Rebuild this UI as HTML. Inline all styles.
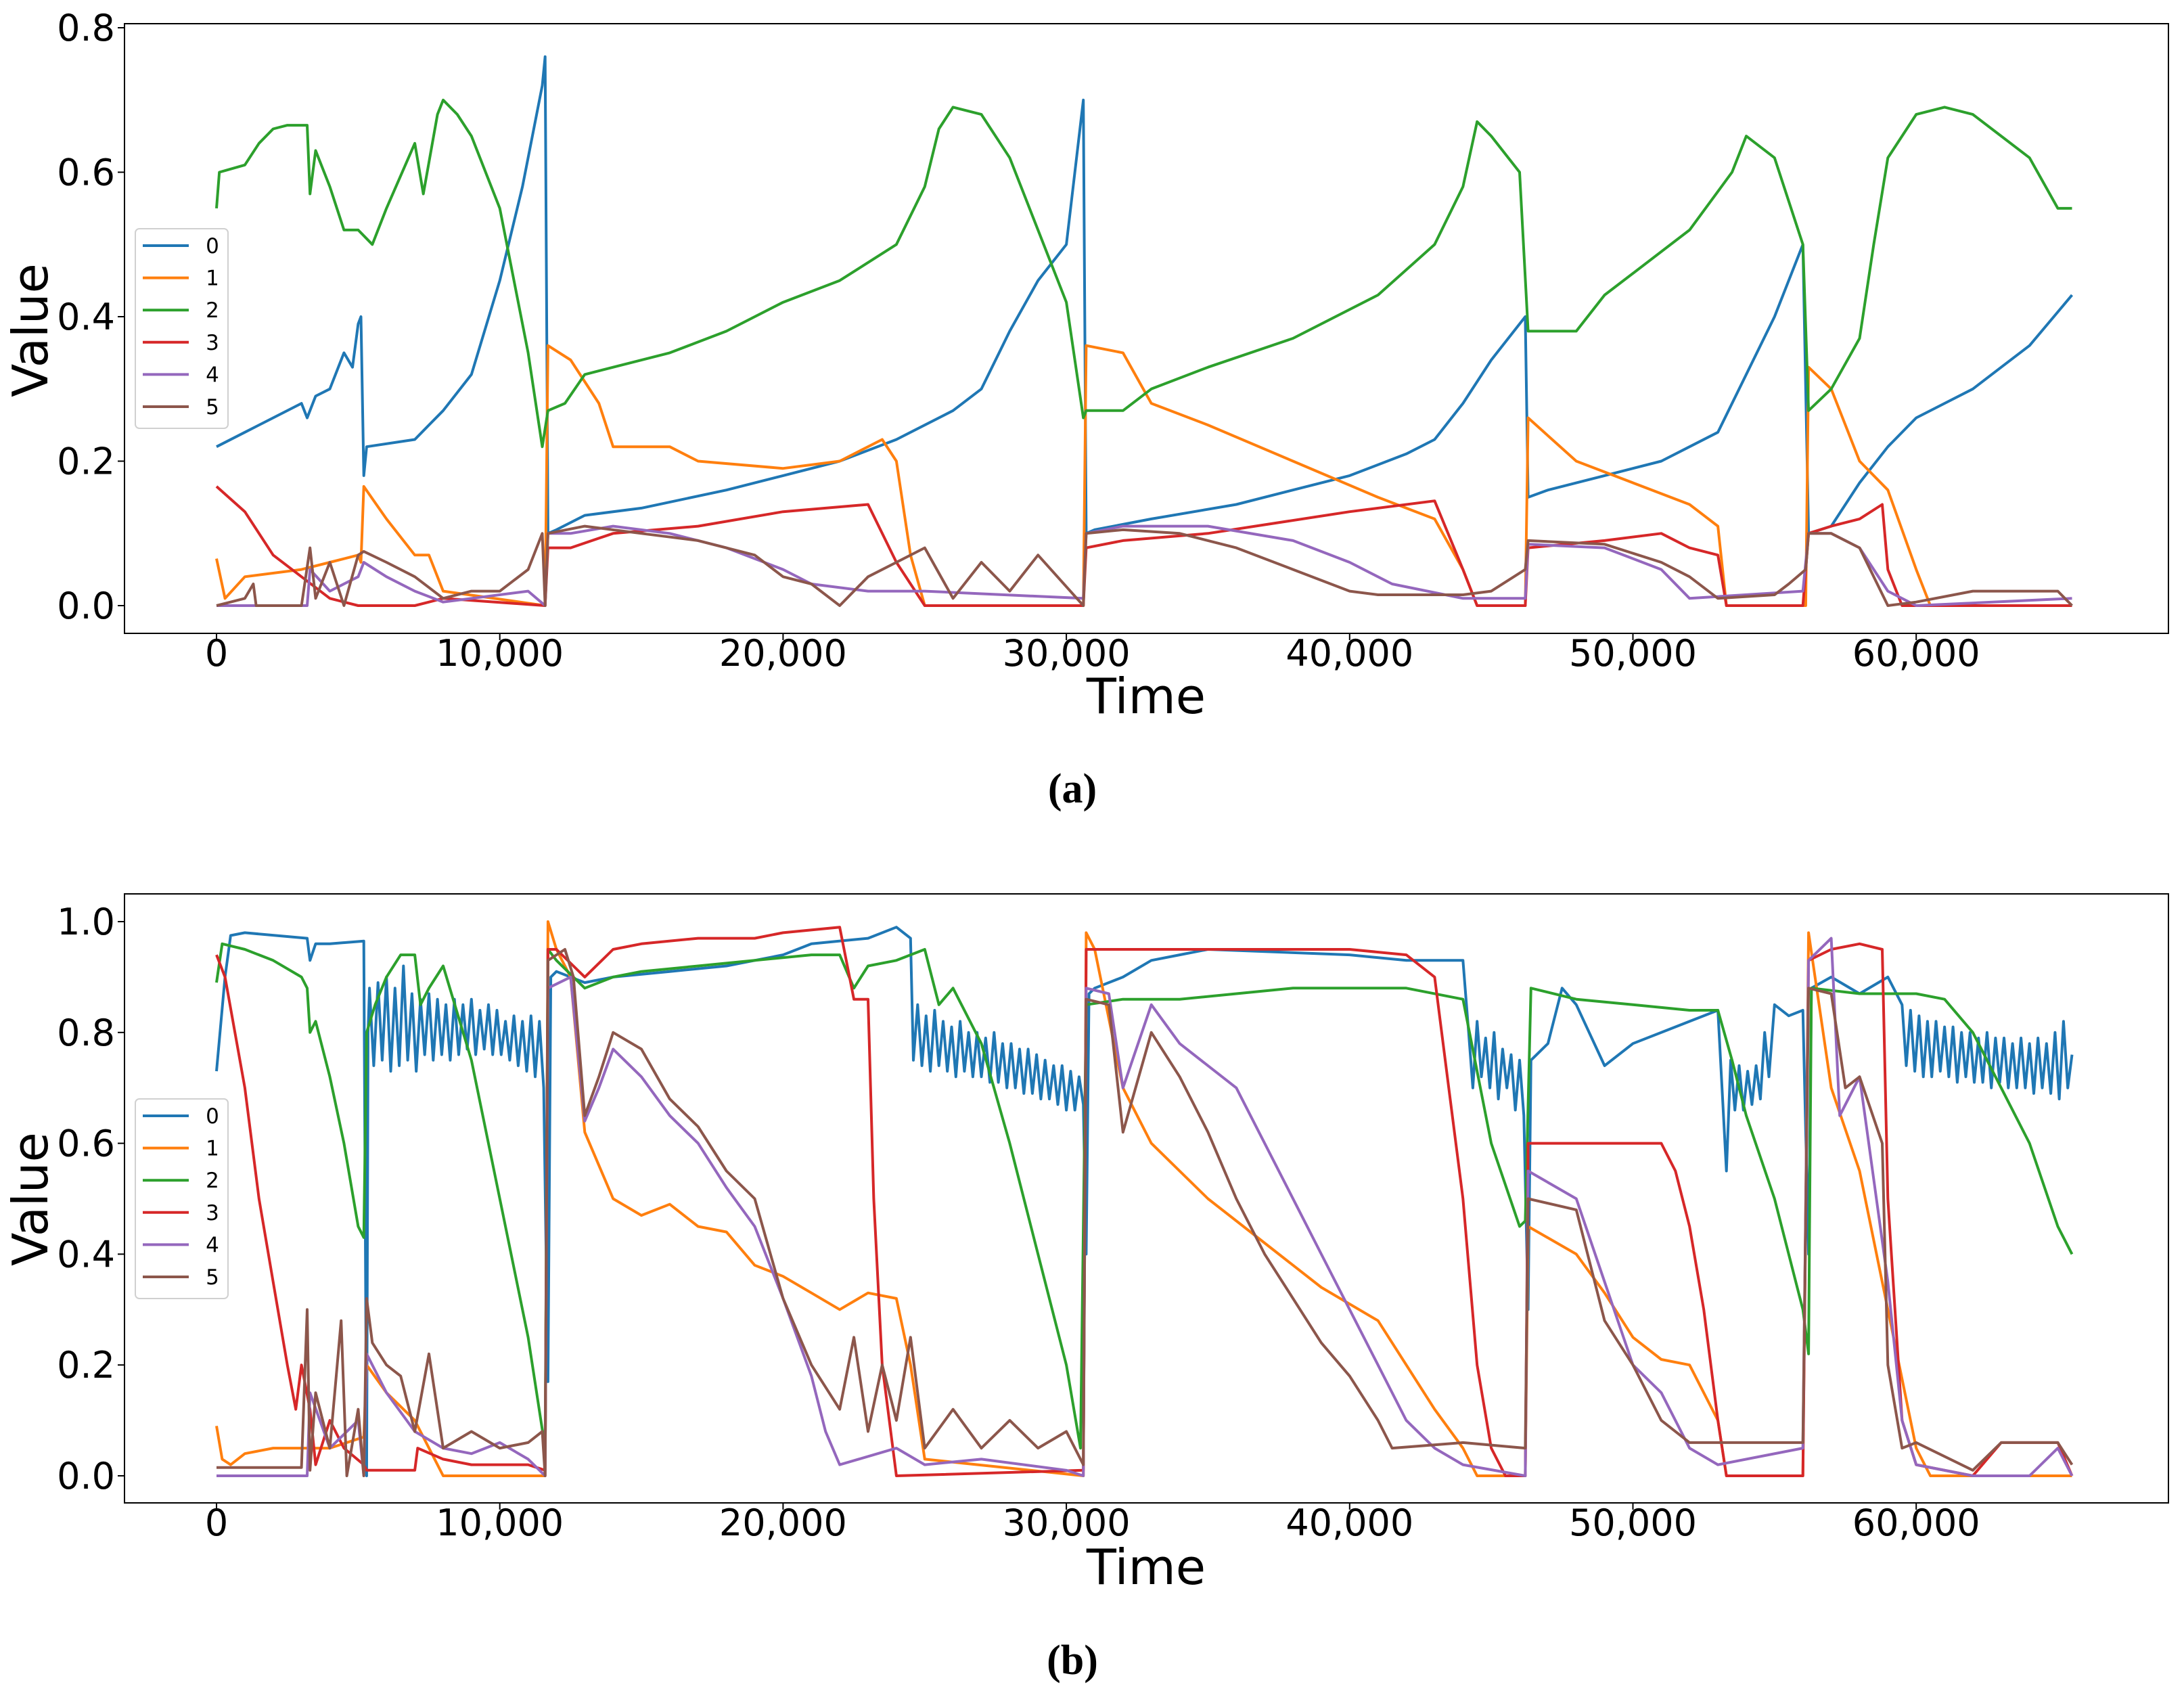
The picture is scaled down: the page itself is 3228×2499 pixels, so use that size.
<!DOCTYPE html>
<html><head><meta charset="utf-8">
<style>
html,body{margin:0;padding:0;background:#fff;}
svg{display:block;}
</style></head>
<body>
<svg id="fig" xmlns="http://www.w3.org/2000/svg" width="3228" height="2499" viewBox="0 0 3228 2499">
<rect x="0" y="0" width="3228" height="2499" fill="#fff"/>
<g id="panelA"></g>
<g id="panelB"></g>
<text x="1585" y="1186" text-anchor="middle" font-family="Liberation Serif, serif" font-size="62" font-weight="bold">(a)</text>
<text x="1585" y="2474" text-anchor="middle" font-family="Liberation Serif, serif" font-size="62" font-weight="bold">(b)</text>
</svg>
<script>
// ---- data (time in thousands) ----
const xTicks = [0,10,20,30,40,50,60];
const xTickLabels = ["0","10,000","20,000","30,000","40,000","50,000","60,000"];
const yTicksA = [0,0.2,0.4,0.6,0.8];
const yTickLabelsA = ["0.0","0.2","0.4","0.6","0.8"];
const yTicksB = [0,0.2,0.4,0.6,0.8,1.0];
const yTickLabelsB = ["0.0","0.2","0.4","0.6","0.8","1.0"];
const seriesNames = ["0","1","2","3","4","5"];
const colors = ["#1f77b4","#ff7f0e","#2ca02c","#d62728","#9467bd","#8c564b"];

const a0 = [[0,0.22],[1,0.24],[2,0.26],[3,0.28],[3.2,0.26],[3.5,0.29],[4,0.3],[4.5,0.35],[4.8,0.33],[5,0.39],[5.1,0.4],[5.2,0.18],[5.3,0.22],[7,0.23],[7.5,0.25],[8,0.27],[9,0.32],[10,0.45],[10.8,0.58],[11.5,0.72],[11.6,0.76],[11.7,0.1],[12,0.105],[13,0.125],[15,0.135],[18,0.16],[20,0.18],[22,0.2],[24,0.23],[26,0.27],[27,0.3],[28,0.38],[29,0.45],[30,0.5],[30.6,0.7],[30.7,0.1],[31,0.105],[33,0.12],[36,0.14],[40,0.18],[42,0.21],[43,0.23],[44,0.28],[45,0.34],[46.2,0.4],[46.3,0.15],[47,0.16],[49,0.18],[51,0.2],[52,0.22],[53,0.24],[54,0.32],[55,0.4],[56,0.5],[56.2,0.1],[57,0.11],[58,0.17],[59,0.22],[60,0.26],[61,0.28],[62,0.3],[63,0.33],[64,0.36],[65.5,0.43]];
const a1 = [[0,0.065],[0.3,0.01],[1,0.04],[3,0.05],[4,0.06],[5,0.07],[5.1,0.06],[5.2,0.165],[6,0.12],[7,0.07],[7.5,0.07],[8,0.02],[11.6,0],[11.7,0.36],[12.5,0.34],[13.5,0.28],[14,0.22],[16,0.22],[17,0.2],[20,0.19],[22,0.2],[23.5,0.23],[24,0.2],[24.5,0.07],[25,0],[30.6,0],[30.7,0.36],[32,0.35],[33,0.28],[35,0.25],[38,0.2],[41,0.15],[43,0.12],[44,0.05],[44.5,0],[46.2,0],[46.3,0.26],[48,0.2],[50,0.17],[52,0.14],[53,0.11],[53.3,0],[56.1,0],[56.2,0.33],[57,0.3],[58,0.2],[59,0.16],[60,0.05],[60.5,0],[65.5,0]];
const a2 = [[0,0.55],[0.1,0.6],[1,0.61],[1.5,0.64],[2,0.66],[2.5,0.665],[3.2,0.665],[3.3,0.57],[3.5,0.63],[4,0.58],[4.5,0.52],[5,0.52],[5.5,0.5],[6,0.55],[7,0.64],[7.3,0.57],[7.8,0.68],[8,0.7],[8.5,0.68],[9,0.65],[10,0.55],[11,0.35],[11.5,0.22],[11.7,0.27],[12.3,0.28],[13,0.32],[14,0.33],[16,0.35],[18,0.38],[20,0.42],[22,0.45],[24,0.5],[25,0.58],[25.5,0.66],[26,0.69],[27,0.68],[28,0.62],[29,0.52],[30,0.42],[30.6,0.26],[30.7,0.27],[32,0.27],[33,0.3],[35,0.33],[38,0.37],[41,0.43],[43,0.5],[44,0.58],[44.5,0.67],[45,0.65],[46,0.6],[46.3,0.38],[48,0.38],[49,0.43],[50,0.46],[52,0.52],[53.5,0.6],[54,0.65],[55,0.62],[56,0.5],[56.2,0.27],[57,0.3],[58,0.37],[58.5,0.5],[59,0.62],[60,0.68],[61,0.69],[62,0.68],[63,0.65],[64,0.62],[65,0.55],[65.5,0.55]];
const a3 = [[0,0.165],[1,0.13],[2,0.07],[3,0.04],[4,0.01],[5,0],[7,0],[8,0.01],[11.6,0],[11.7,0.08],[12.5,0.08],[14,0.1],[17,0.11],[20,0.13],[23,0.14],[24,0.06],[25,0],[30.6,0],[30.7,0.08],[32,0.09],[35,0.1],[40,0.13],[43,0.145],[44,0.05],[44.5,0],[46.2,0],[46.3,0.08],[49,0.09],[51,0.1],[52,0.08],[53,0.07],[53.3,0],[56,0],[56.2,0.1],[57,0.11],[58,0.12],[58.8,0.14],[59,0.05],[59.5,0],[65.5,0]];
const a4 = [[0,0],[3.2,0],[3.3,0.05],[4,0.02],[5,0.04],[5.2,0.06],[6,0.04],[7,0.02],[8,0.005],[11,0.02],[11.6,0],[11.7,0.1],[12.5,0.1],[14,0.11],[16,0.1],[18,0.08],[20,0.05],[21,0.03],[23,0.02],[25,0.02],[30.6,0.01],[30.7,0.1],[32,0.11],[35,0.11],[38,0.09],[40,0.06],[41.5,0.03],[44,0.01],[46.2,0.01],[46.3,0.085],[49,0.08],[51,0.05],[52,0.01],[56,0.02],[56.2,0.1],[57,0.1],[58,0.08],[59,0.02],[60,0],[65.5,0.01]];
const a5 = [[0,0],[1,0.01],[1.3,0.03],[1.4,0],[3,0],[3.3,0.08],[3.5,0.01],[4,0.06],[4.5,0],[5,0.07],[5.2,0.075],[6,0.06],[7,0.04],[8,0.01],[9,0.02],[10,0.02],[11,0.05],[11.5,0.1],[11.6,0],[11.7,0.1],[13,0.11],[15,0.1],[17,0.09],[19,0.07],[20,0.04],[21,0.03],[22,0],[23,0.04],[24,0.06],[25,0.08],[26,0.01],[27,0.06],[28,0.02],[29,0.07],[30.6,0],[30.7,0.1],[32,0.105],[34,0.1],[36,0.08],[38,0.05],[40,0.02],[41,0.015],[44,0.015],[45,0.02],[46.2,0.05],[46.3,0.09],[49,0.085],[51,0.06],[52,0.04],[53,0.01],[55,0.015],[55.5,0.03],[56.1,0.05],[56.2,0.1],[57,0.1],[58,0.08],[59,0],[60,0.005],[62,0.02],[65,0.02],[65.5,0]];

const b0 = [[0,0.73],[0.3,0.9],[0.5,0.975],[1,0.98],[3.2,0.97],[3.3,0.93],[3.5,0.96],[4,0.96],[5.2,0.965],[5.3,0],[5.35,0.8],
[5.4,0.88],[5.55,0.74],[5.7,0.89],[5.85,0.75],[6.0,0.9],[6.15,0.73],[6.3,0.88],[6.45,0.74],[6.6,0.92],[6.75,0.75],[6.9,0.87],[7.05,0.73],[7.2,0.86],[7.35,0.76],[7.5,0.87],[7.65,0.75],[7.8,0.86],[7.95,0.76],[8.1,0.85],[8.25,0.75],[8.4,0.86],[8.55,0.76],[8.7,0.85],[8.85,0.77],[9.0,0.86],[9.15,0.76],[9.3,0.84],[9.45,0.77],[9.6,0.85],[9.75,0.76],[9.9,0.84],[10.05,0.76],[10.2,0.82],[10.35,0.75],[10.5,0.83],[10.65,0.74],[10.8,0.82],[10.95,0.73],[11.1,0.83],[11.25,0.72],[11.4,0.82],[11.55,0.7],
[11.7,0.17],[11.8,0.9],[12,0.91],[13,0.89],[14,0.9],[16,0.91],[18,0.92],[20,0.94],[21,0.96],[23,0.97],[24,0.99],[24.5,0.97],
[24.6,0.75],[24.75,0.85],[24.9,0.74],[25.05,0.83],[25.2,0.73],[25.35,0.84],[25.5,0.74],[25.65,0.82],[25.8,0.73],[25.95,0.81],[26.1,0.72],[26.25,0.82],[26.4,0.73],[26.55,0.8],[26.7,0.72],[26.85,0.8],[27.0,0.72],[27.15,0.79],[27.3,0.71],[27.45,0.8],[27.6,0.71],[27.75,0.78],[27.9,0.7],[28.05,0.78],[28.2,0.7],[28.35,0.77],[28.5,0.69],[28.65,0.77],[28.8,0.69],[28.95,0.76],[29.1,0.68],[29.25,0.75],[29.4,0.68],[29.55,0.74],[29.7,0.67],[29.85,0.74],[30.0,0.66],[30.15,0.73],[30.3,0.66],[30.45,0.72],[30.6,0.67],
[30.7,0.4],[30.8,0.87],[31,0.88],[32,0.9],[33,0.93],[34,0.94],[35,0.95],[40,0.94],[42,0.93],[44,0.93],
[44.2,0.8],[44.35,0.7],[44.5,0.82],[44.65,0.72],[44.8,0.79],[44.95,0.7],[45.1,0.8],[45.25,0.68],[45.4,0.77],[45.55,0.7],[45.7,0.76],[45.85,0.66],[46.0,0.75],[46.15,0.65],
[46.3,0.3],[46.4,0.75],[47,0.78],[47.5,0.88],[48,0.85],[49,0.74],[50,0.78],[52,0.82],[53,0.84],
[53.3,0.55],[53.45,0.75],[53.6,0.66],[53.75,0.74],[53.9,0.66],[54.05,0.73],[54.2,0.67],[54.35,0.74],[54.5,0.68],[54.65,0.8],[54.8,0.72],[55,0.85],[55.5,0.83],[56,0.84],
[56.2,0.4],[56.3,0.88],[57,0.9],[58,0.87],[59,0.9],
[59.5,0.85],[59.65,0.74],[59.8,0.84],[59.95,0.73],[60.1,0.83],[60.25,0.72],[60.4,0.82],[60.55,0.72],[60.7,0.82],[60.85,0.73],[61.0,0.81],[61.15,0.72],[61.3,0.81],[61.45,0.71],[61.6,0.8],[61.75,0.72],[61.9,0.8],[62.05,0.71],[62.2,0.79],[62.35,0.71],[62.5,0.8],[62.65,0.7],[62.8,0.79],[62.95,0.71],[63.1,0.79],[63.25,0.7],[63.4,0.78],[63.55,0.7],[63.7,0.79],[63.85,0.7],[64.0,0.78],[64.15,0.69],[64.3,0.79],[64.45,0.7],[64.6,0.78],[64.75,0.69],[64.9,0.8],[65.05,0.68],[65.2,0.82],[65.35,0.7],[65.5,0.76]];
const b1 = [[0,0.09],[0.2,0.03],[0.5,0.02],[1,0.04],[2,0.05],[3,0.05],[4,0.05],[5.2,0.07],[5.3,0.2],[6,0.15],[7,0.1],[8,0],[11.6,0],[11.7,1.0],[12,0.95],[12.5,0.9],[13,0.62],[14,0.5],[15,0.47],[16,0.49],[17,0.45],[18,0.44],[19,0.38],[20,0.36],[21,0.33],[22,0.3],[23,0.33],[24,0.32],[24.5,0.2],[25,0.03],[30.6,0],[30.7,0.98],[31,0.95],[32,0.7],[33,0.6],[35,0.5],[37,0.42],[39,0.34],[41,0.28],[43,0.12],[44,0.05],[44.5,0],[46.2,0],[46.3,0.45],[48,0.4],[49,0.33],[50,0.25],[51,0.21],[52,0.2],[53,0.1],[53.3,0],[56,0],[56.2,0.98],[57,0.7],[58,0.55],[59,0.3],[60,0.05],[60.5,0],[65.5,0]];
const b2 = [[0,0.89],[0.2,0.96],[1,0.95],[2,0.93],[3,0.9],[3.2,0.88],[3.3,0.8],[3.5,0.82],[4,0.72],[4.5,0.6],[5,0.45],[5.2,0.43],[5.3,0.8],[5.6,0.85],[6,0.9],[6.5,0.94],[7,0.94],[7.2,0.85],[7.5,0.88],[8,0.92],[9,0.75],[10,0.5],[11,0.25],[11.6,0.05],[11.7,0.95],[12,0.93],[13,0.88],[14,0.9],[15,0.91],[17,0.92],[19,0.93],[21,0.94],[22,0.94],[22.5,0.88],[23,0.92],[24,0.93],[25,0.95],[25.5,0.85],[26,0.88],[27,0.78],[28,0.6],[29,0.4],[30,0.2],[30.5,0.05],[30.7,0.85],[32,0.86],[34,0.86],[36,0.87],[38,0.88],[42,0.88],[44,0.86],[45,0.6],[46,0.45],[46.2,0.46],[46.4,0.88],[48,0.86],[50,0.85],[52,0.84],[53,0.84],[53.5,0.75],[54,0.65],[55,0.5],[56,0.3],[56.2,0.22],[56.3,0.88],[58,0.87],[60,0.87],[61,0.86],[62,0.8],[63,0.7],[64,0.6],[65,0.45],[65.5,0.4]];
const b3 = [[0,0.94],[0.3,0.9],[1,0.7],[1.5,0.5],[2,0.35],[2.5,0.2],[2.8,0.12],[3,0.2],[3.3,0.12],[3.5,0.02],[4,0.1],[4.5,0.05],[5.2,0.02],[5.3,0.01],[7,0.01],[7.1,0.05],[8,0.03],[9,0.02],[11,0.02],[11.6,0.01],[11.7,0.95],[12,0.95],[13,0.9],[14,0.95],[15,0.96],[17,0.97],[19,0.97],[20,0.98],[22,0.99],[22.5,0.86],[23,0.86],[23.2,0.5],[23.5,0.2],[24,0],[30.6,0.01],[30.7,0.95],[32,0.95],[34,0.95],[36,0.95],[40,0.95],[42,0.94],[43,0.9],[43.5,0.7],[44,0.5],[44.5,0.2],[45,0.05],[45.5,0],[46.2,0],[46.3,0.6],[49,0.6],[51,0.6],[51.5,0.55],[52,0.45],[52.5,0.3],[53,0.1],[53.3,0],[56,0],[56.2,0.93],[57,0.95],[58,0.96],[58.8,0.95],[59,0.5],[59.5,0.1],[60,0.02],[62,0],[63,0.06],[65,0.06],[65.5,0]];
const b4 = [[0,0],[3.2,0],[3.3,0.15],[4,0.05],[5,0.1],[5.2,0],[5.3,0.22],[6,0.15],[7,0.08],[8,0.05],[9,0.04],[10,0.06],[11,0.03],[11.6,0],[11.7,0.88],[12.5,0.9],[13,0.64],[13.5,0.7],[14,0.77],[15,0.72],[16,0.65],[17,0.6],[18,0.52],[19,0.45],[20,0.32],[21,0.18],[21.5,0.08],[22,0.02],[24,0.05],[25,0.02],[27,0.03],[30,0.01],[30.6,0],[30.7,0.88],[31.5,0.87],[32,0.7],[33,0.85],[34,0.78],[36,0.7],[38,0.5],[39,0.4],[40,0.3],[41,0.2],[42,0.1],[43,0.05],[44,0.02],[46.2,0],[46.3,0.55],[48,0.5],[49,0.35],[50,0.2],[51,0.15],[52,0.05],[53,0.02],[56,0.05],[56.2,0.93],[57,0.97],[57.3,0.65],[58,0.72],[59,0.35],[59.5,0.1],[60,0.02],[62,0],[64,0],[65,0.05],[65.5,0]];
const b5 = [[0,0.015],[3,0.015],[3.2,0.3],[3.3,0.01],[3.5,0.15],[4,0.05],[4.4,0.28],[4.6,0],[5,0.12],[5.2,0],[5.3,0.32],[5.5,0.24],[6,0.2],[6.5,0.18],[7,0.08],[7.5,0.22],[8,0.05],[9,0.08],[10,0.05],[11,0.06],[11.5,0.08],[11.6,0],[11.7,0.93],[12.3,0.95],[12.6,0.9],[13,0.65],[13.5,0.72],[14,0.8],[15,0.77],[16,0.68],[17,0.63],[18,0.55],[19,0.5],[20,0.32],[21,0.2],[22,0.12],[22.5,0.25],[23,0.08],[23.5,0.2],[24,0.1],[24.5,0.25],[25,0.05],[26,0.12],[27,0.05],[28,0.1],[29,0.05],[30,0.08],[30.6,0.02],[30.7,0.86],[31.5,0.85],[32,0.62],[33,0.8],[34,0.72],[35,0.62],[36,0.5],[37,0.4],[38,0.32],[39,0.24],[40,0.18],[41,0.1],[41.5,0.05],[44,0.06],[46.2,0.05],[46.3,0.5],[48,0.48],[49,0.28],[50,0.2],[51,0.1],[52,0.06],[53,0.06],[56,0.06],[56.2,0.88],[57,0.87],[57.5,0.7],[58,0.72],[58.8,0.6],[59,0.2],[59.5,0.05],[60,0.06],[62,0.01],[63,0.06],[65,0.06],[65.5,0.02]];

const NS = "http://www.w3.org/2000/svg";
function mk(tag, attrs, parent){
  const e = document.createElementNS(NS, tag);
  for (const k in attrs) e.setAttribute(k, attrs[k]);
  parent.appendChild(e);
  return e;
}
function xScale(t){ return 320 + t * 41.87; }

function drawPanel(g, cfg){
  const {top, bottom, y0, yTop, yMax, yTicks, yLabels, series, legendTop, titleY, yLabelY, key} = cfg;
  const yS = v => y0 - (v / yMax) * (y0 - yTop);
  const sg = mk('g', {}, g);
  
  
  series.forEach((s, i) => {
    const d = s.map((p, j) => (j ? 'L' : 'M') + xScale(p[0]).toFixed(1) + ' ' + yS(p[1]).toFixed(1)).join(' ');
    const p = mk('path', {d: d, fill: 'none', stroke: colors[i], 'stroke-width': 4, 'stroke-linejoin': 'round'}, sg);
    
    
  });
  const fr = mk('rect', {x: 184, y: top, width: 3205 - 184, height: bottom - top, fill: 'none', stroke: '#000', 'stroke-width': 2}, g);
  
  
  yTicks.forEach((v, i) => {
    const y = yS(v);
    const tk = mk('line', {x1: 174, x2: 184, y1: y, y2: y, stroke: '#000', 'stroke-width': 2}, g);
    
    
    const tx = mk('text', {x: 170, y: y + 19, 'text-anchor': 'end', 'font-family': 'DejaVu Sans, Liberation Sans, sans-serif', 'font-size': 54}, g);
    tx.textContent = yLabels[i];
    
    
  });
  xTicks.forEach((t, i) => {
    const x = xScale(t);
    const tk = mk('line', {x1: x, x2: x, y1: bottom, y2: bottom + 10, stroke: '#000', 'stroke-width': 2}, g);
    
    
    const tx = mk('text', {x: x, y: bottom + 48, 'text-anchor': 'middle', 'font-family': 'DejaVu Sans, Liberation Sans, sans-serif', 'font-size': 54}, g);
    tx.textContent = xTickLabels[i];
    
    
  });
  const xt = mk('text', {x: 1694, y: titleY, 'text-anchor': 'middle', 'font-family': 'DejaVu Sans, Liberation Sans, sans-serif', 'font-size': 72}, g);
  xt.textContent = 'Time';
  
  
  const yt = mk('text', {x: 0, y: 0, 'text-anchor': 'middle', 'font-family': 'DejaVu Sans, Liberation Sans, sans-serif', 'font-size': 72, transform: 'translate(70,' + yLabelY + ') rotate(-90)'}, g);
  yt.textContent = 'Value';
  
  
  const lg = mk('g', {}, g);
  
  
  mk('rect', {x: 200, y: legendTop, width: 137, height: 295, rx: 6, fill: '#fff', 'fill-opacity': 0.8, stroke: '#d0d0d0', 'stroke-width': 2}, lg);
  seriesNames.forEach((n, i) => {
    const y = legendTop + 25 + i * 47.6;
    const e = mk('g', {}, lg);
    
    
    mk('line', {x1: 211, x2: 279, y1: y, y2: y, stroke: colors[i], 'stroke-width': 4}, e);
    const t = mk('text', {x: 314, y: y + 11, 'text-anchor': 'middle', 'font-family': 'DejaVu Sans, Liberation Sans, sans-serif', 'font-size': 31}, e);
    t.textContent = n;
  });
}

drawPanel(document.getElementById('panelA'), {
  key: 'chart-a', top: 35, bottom: 936, y0: 895, yTop: 41, yMax: 0.8,
  yTicks: yTicksA, yLabels: yTickLabelsA, series: [a0,a1,a2,a3,a4,a5],
  legendTop: 338, titleY: 1054, yLabelY: 488
});
drawPanel(document.getElementById('panelB'), {
  key: 'chart-b', top: 1321, bottom: 2221, y0: 2181, yTop: 1362, yMax: 1.0,
  yTicks: yTicksB, yLabels: yTickLabelsB, series: [b0,b1,b2,b3,b4,b5],
  legendTop: 1624, titleY: 2341, yLabelY: 1772
});
</script>
</body></html>
